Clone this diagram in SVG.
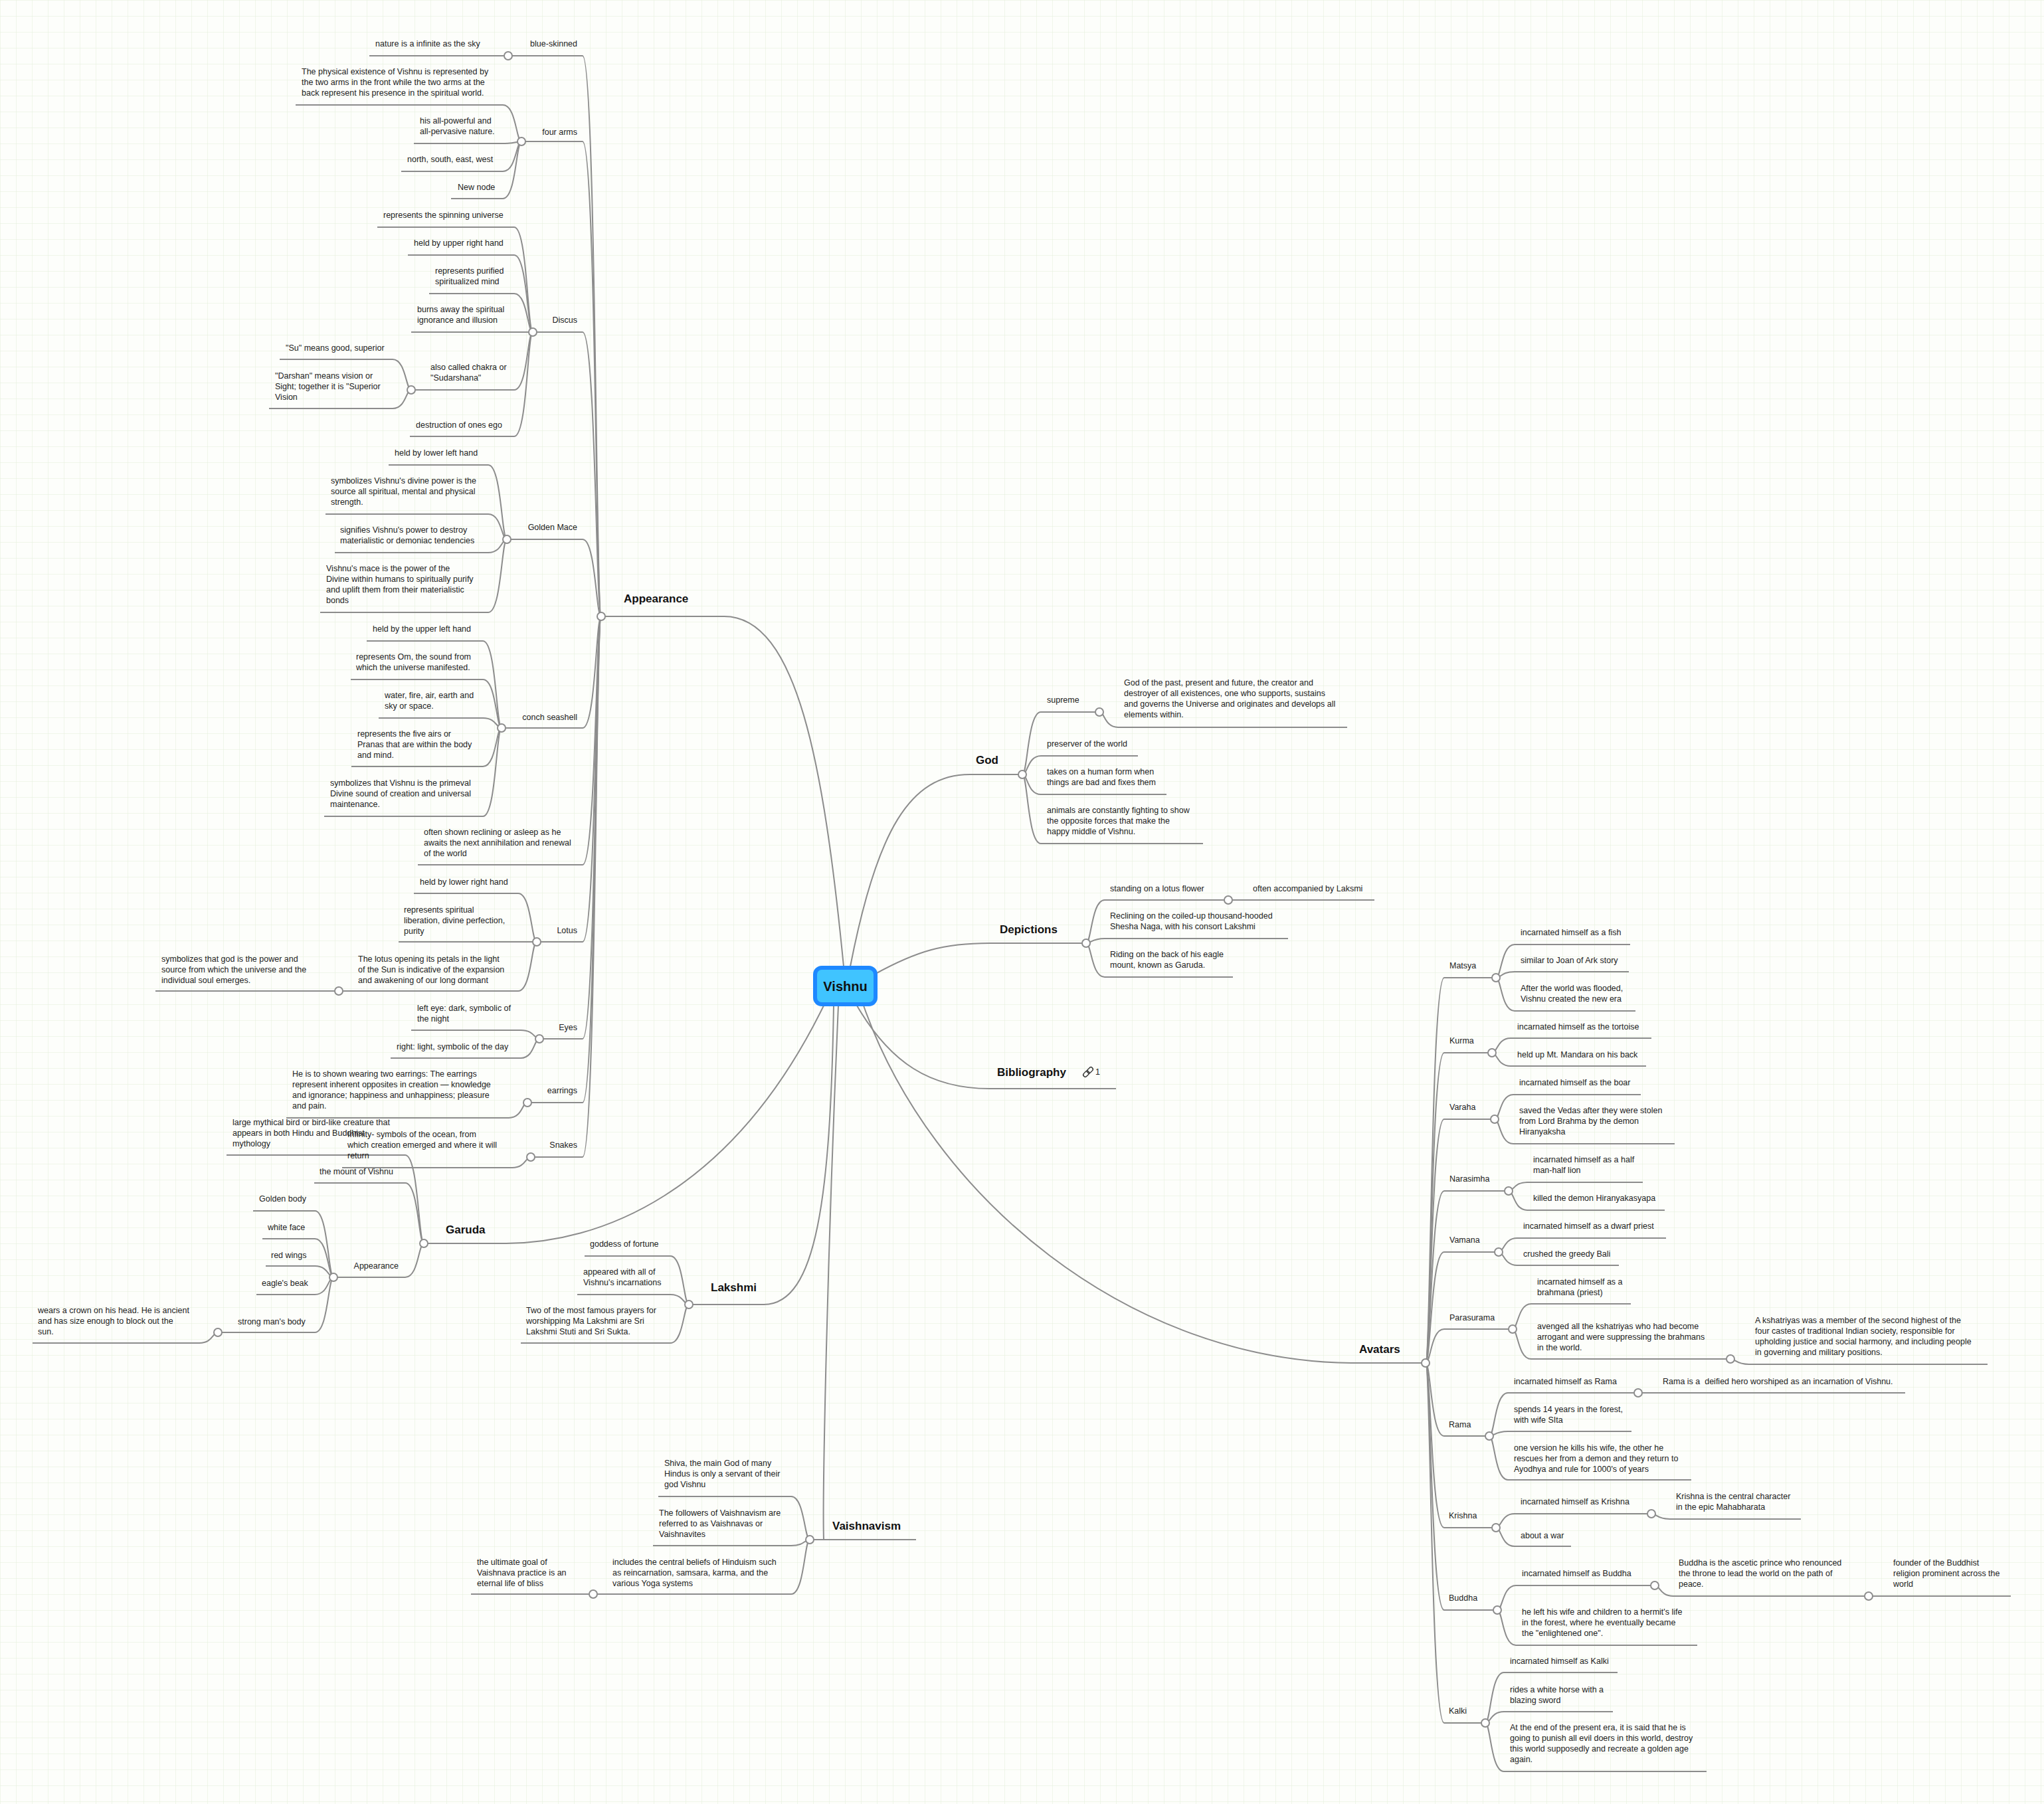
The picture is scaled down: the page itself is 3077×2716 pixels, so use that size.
<svg xmlns="http://www.w3.org/2000/svg" width="3077" height="2716" viewBox="0 0 3077 2716">
<defs>
<pattern id="grid" width="24" height="24" patternUnits="userSpaceOnUse"><path d="M24,0 H0 V24" fill="none" stroke="#e3edda" stroke-width="1"/></pattern>
<style>
.ln{fill:none;stroke:#8c8c8c;stroke-width:2}
.dot{fill:#fff;stroke:#8c8c8c;stroke-width:2}
.t{font-family:"Liberation Sans",Arial,sans-serif;font-size:12.5px;fill:#222}
.h{font-family:"Liberation Sans",Arial,sans-serif;font-size:17px;font-weight:bold;fill:#111}
</style>
</defs>
<rect width="3077" height="2716" fill="#fdfefb"/>
<rect width="3077" height="2716" fill="url(#grid)"/>
<g id="connectors">
<path class="ln" d="M1270,1455 C1240,1150 1200,928 1090,928 H905"/>
<path class="ln" d="M1280,1455 C1320,1250 1370,1166 1460,1166 H1539"/>
<path class="ln" d="M1318,1466 C1380,1432 1420,1420 1490,1420 H1635"/>
<path class="ln" d="M1290,1514 C1340,1600 1400,1639 1490,1639 H1680"/>
<path class="ln" d="M1300,1514 C1400,1800 1700,2052 2040,2052 H2146"/>
<path class="ln" d="M1262,1514 C1245,1900 1238,2250 1240,2318"/>
<path class="ln" d="M1219,2318 H1379"/>
<path class="ln" d="M1255,1514 C1250,1800 1230,1964 1150,1964 H1037"/>
<path class="ln" d="M1240,1514 C1100,1800 900,1872 760,1872 H638"/>
<!-- Appearance -->
<path class="ln" d="M905,928 C897,928 897,84 877,84 H765"/>
<path class="ln" d="M905,928 C897,928 897,213 877,213 H785"/>
<path class="ln" d="M905,928 C897,928 897,500 877,500 H802"/>
<path class="ln" d="M905,928 C897,928 897,812 877,812 H763"/>
<path class="ln" d="M905,928 C897,928 897,1096 877,1096 H755"/>
<path class="ln" d="M905,928 C897,928 897,1302 877,1302 H629"/>
<path class="ln" d="M905,928 C897,928 897,1418 877,1418 H808"/>
<path class="ln" d="M905,928 C897,928 897,1564 877,1564 H812"/>
<path class="ln" d="M905,928 C897,928 897,1660 877,1660 H794"/>
<path class="ln" d="M905,928 C897,928 897,1742 877,1742 H799"/>
<path class="ln" d="M765,84 H556"/>
<path class="ln" d="M785,213 C777,213 777,158 757,158 H445"/>
<path class="ln" d="M785,213 C777,213 777,216 757,216 H623"/>
<path class="ln" d="M785,213 C777,213 777,258 757,258 H604"/>
<path class="ln" d="M785,213 C777,213 777,299 757,299 H679"/>
<path class="ln" d="M802,500 C794,500 794,342 774,342 H568"/>
<path class="ln" d="M802,500 C794,500 794,384 774,384 H614"/>
<path class="ln" d="M802,500 C794,500 794,442 774,442 H646"/>
<path class="ln" d="M802,500 H619"/>
<path class="ln" d="M802,500 C794,500 794,587 774,587 H619"/>
<path class="ln" d="M802,500 C794,500 794,657 774,657 H617"/>
<path class="ln" d="M619,587 C611,587 611,541 591,541 H421"/>
<path class="ln" d="M619,587 C611,587 611,615 591,615 H405"/>
<path class="ln" d="M763,812 C755,812 755,700 735,700 H585"/>
<path class="ln" d="M763,812 C755,812 755,774 735,774 H490"/>
<path class="ln" d="M763,812 C755,812 755,832 735,832 H504"/>
<path class="ln" d="M763,812 C755,812 755,922 735,922 H482"/>
<path class="ln" d="M755,1096 C747,1096 747,965 727,965 H552"/>
<path class="ln" d="M755,1096 C747,1096 747,1023 727,1023 H528"/>
<path class="ln" d="M755,1096 C747,1096 747,1081 727,1081 H570"/>
<path class="ln" d="M755,1096 C747,1096 747,1154 727,1154 H529"/>
<path class="ln" d="M755,1096 C747,1096 747,1229 727,1229 H488"/>
<path class="ln" d="M808,1418 C800,1418 800,1345 780,1345 H623"/>
<path class="ln" d="M808,1418 H600"/>
<path class="ln" d="M808,1418 C800,1418 800,1492 780,1492 H510"/>
<path class="ln" d="M510,1492 H234"/>
<path class="ln" d="M812,1564 C804,1564 804,1551 784,1551 H619"/>
<path class="ln" d="M812,1564 C804,1564 804,1593 784,1593 H588"/>
<path class="ln" d="M794,1660 C786,1660 786,1683 766,1683 H431"/>
<path class="ln" d="M799,1742 C791,1742 791,1758 771,1758 H515"/>
<!-- Garuda -->
<path class="ln" d="M638,1872 C630,1872 630,1739 610,1739 H341"/>
<path class="ln" d="M638,1872 C630,1872 630,1781 610,1781 H473"/>
<path class="ln" d="M638,1872 C630,1872 630,1923 610,1923 H502"/>
<path class="ln" d="M502,1923 C494,1923 494,1823 474,1823 H381"/>
<path class="ln" d="M502,1923 C494,1923 494,1865 474,1865 H395"/>
<path class="ln" d="M502,1923 C494,1923 494,1906 474,1906 H400"/>
<path class="ln" d="M502,1923 C494,1923 494,1949 474,1949 H386"/>
<path class="ln" d="M502,1923 C494,1923 494,2006 474,2006 H328"/>
<path class="ln" d="M328,2006 C320,2006 320,2022 300,2022 H49"/>
<!-- Lakshmi -->
<path class="ln" d="M1037,1964 C1029,1964 1029,1891 1009,1891 H880"/>
<path class="ln" d="M1037,1964 C1029,1964 1029,1949 1009,1949 H869"/>
<path class="ln" d="M1037,1964 C1029,1964 1029,2022 1009,2022 H784"/>
<!-- Vaishnavism -->
<path class="ln" d="M1219,2318 C1211,2318 1211,2253 1191,2253 H991"/>
<path class="ln" d="M1219,2318 C1211,2318 1211,2327 1191,2327 H983"/>
<path class="ln" d="M1219,2318 C1211,2318 1211,2400 1191,2400 H893"/>
<path class="ln" d="M893,2400 H709"/>
<!-- God -->
<path class="ln" d="M1539,1166 C1547,1166 1547,1072 1567,1072 H1655"/>
<path class="ln" d="M1539,1166 C1547,1166 1547,1138 1567,1138 H1713"/>
<path class="ln" d="M1539,1166 C1547,1166 1547,1196 1567,1196 H1756"/>
<path class="ln" d="M1539,1166 C1547,1166 1547,1270 1567,1270 H1811"/>
<path class="ln" d="M1655,1072 C1663,1072 1663,1095 1683,1095 H2028"/>
<!-- Depictions -->
<path class="ln" d="M1635,1420 C1643,1420 1643,1355 1663,1355 H1849"/>
<path class="ln" d="M1635,1420 C1643,1420 1643,1413 1663,1413 H1939"/>
<path class="ln" d="M1635,1420 C1643,1420 1643,1471 1663,1471 H1856"/>
<path class="ln" d="M1849,1355 H2069"/>
<!-- Avatars -->
<path class="ln" d="M2146,2052 C2154,2052 2154,1472 2174,1472 H2252"/>
<path class="ln" d="M2146,2052 C2154,2052 2154,1585 2174,1585 H2246"/>
<path class="ln" d="M2146,2052 C2154,2052 2154,1685 2174,1685 H2250"/>
<path class="ln" d="M2146,2052 C2154,2052 2154,1793 2174,1793 H2271"/>
<path class="ln" d="M2146,2052 C2154,2052 2154,1885 2174,1885 H2256"/>
<path class="ln" d="M2146,2052 C2154,2052 2154,2001 2174,2001 H2277"/>
<path class="ln" d="M2146,2052 C2154,2052 2154,2162 2174,2162 H2242"/>
<path class="ln" d="M2146,2052 C2154,2052 2154,2300 2174,2300 H2252"/>
<path class="ln" d="M2146,2052 C2154,2052 2154,2424 2174,2424 H2254"/>
<path class="ln" d="M2146,2052 C2154,2052 2154,2594 2174,2594 H2236"/>
<path class="ln" d="M2252,1472 C2260,1472 2260,1422 2280,1422 H2454"/>
<path class="ln" d="M2252,1472 C2260,1472 2260,1463 2280,1463 H2452"/>
<path class="ln" d="M2252,1472 C2260,1472 2260,1522 2280,1522 H2462"/>
<path class="ln" d="M2246,1585 C2254,1585 2254,1563 2274,1563 H2486"/>
<path class="ln" d="M2246,1585 C2254,1585 2254,1605 2274,1605 H2478"/>
<path class="ln" d="M2250,1685 C2258,1685 2258,1648 2278,1648 H2470"/>
<path class="ln" d="M2250,1685 C2258,1685 2258,1722 2278,1722 H2521"/>
<path class="ln" d="M2271,1793 C2279,1793 2279,1780 2299,1780 H2473"/>
<path class="ln" d="M2271,1793 C2279,1793 2279,1822 2299,1822 H2506"/>
<path class="ln" d="M2256,1885 C2264,1885 2264,1864 2284,1864 H2508"/>
<path class="ln" d="M2256,1885 C2264,1885 2264,1905 2284,1905 H2437"/>
<path class="ln" d="M2277,2001 C2285,2001 2285,1963 2305,1963 H2455"/>
<path class="ln" d="M2277,2001 C2285,2001 2285,2046 2305,2046 H2605"/>
<path class="ln" d="M2605,2046 C2613,2046 2613,2054 2633,2054 H2992"/>
<path class="ln" d="M2242,2162 C2250,2162 2250,2097 2270,2097 H2466"/>
<path class="ln" d="M2242,2162 C2250,2162 2250,2155 2270,2155 H2456"/>
<path class="ln" d="M2242,2162 C2250,2162 2250,2228 2270,2228 H2546"/>
<path class="ln" d="M2466,2097 H2868"/>
<path class="ln" d="M2252,2300 C2260,2300 2260,2279 2280,2279 H2486"/>
<path class="ln" d="M2252,2300 C2260,2300 2260,2328 2280,2328 H2365"/>
<path class="ln" d="M2486,2279 C2494,2279 2494,2287 2514,2287 H2711"/>
<path class="ln" d="M2254,2424 C2262,2424 2262,2387 2282,2387 H2491"/>
<path class="ln" d="M2254,2424 C2262,2424 2262,2477 2282,2477 H2555"/>
<path class="ln" d="M2491,2387 C2499,2387 2499,2403 2519,2403 H2813"/>
<path class="ln" d="M2813,2403 H3027"/>
<path class="ln" d="M2236,2594 C2244,2594 2244,2518 2264,2518 H2435"/>
<path class="ln" d="M2236,2594 C2244,2594 2244,2577 2264,2577 H2428"/>
<path class="ln" d="M2236,2594 C2244,2594 2244,2667 2264,2667 H2569"/>
</g>
<g id="dots">
<circle class="dot" cx="905" cy="928" r="6"/><circle class="dot" cx="765" cy="84" r="6"/><circle class="dot" cx="785" cy="213" r="6"/><circle class="dot" cx="802" cy="500" r="6"/><circle class="dot" cx="619" cy="587" r="6"/><circle class="dot" cx="763" cy="812" r="6"/><circle class="dot" cx="755" cy="1096" r="6"/><circle class="dot" cx="808" cy="1418" r="6"/><circle class="dot" cx="510" cy="1492" r="6"/><circle class="dot" cx="812" cy="1564" r="6"/><circle class="dot" cx="794" cy="1660" r="6"/><circle class="dot" cx="799" cy="1742" r="6"/><circle class="dot" cx="638" cy="1872" r="6"/><circle class="dot" cx="502" cy="1923" r="6"/><circle class="dot" cx="328" cy="2006" r="6"/><circle class="dot" cx="1037" cy="1964" r="6"/><circle class="dot" cx="1219" cy="2318" r="6"/><circle class="dot" cx="893" cy="2400" r="6"/><circle class="dot" cx="1539" cy="1166" r="6"/><circle class="dot" cx="1655" cy="1072" r="6"/><circle class="dot" cx="1635" cy="1420" r="6"/><circle class="dot" cx="1849" cy="1355" r="6"/><circle class="dot" cx="2146" cy="2052" r="6"/><circle class="dot" cx="2252" cy="1472" r="6"/><circle class="dot" cx="2246" cy="1585" r="6"/><circle class="dot" cx="2250" cy="1685" r="6"/><circle class="dot" cx="2271" cy="1793" r="6"/><circle class="dot" cx="2256" cy="1885" r="6"/><circle class="dot" cx="2277" cy="2001" r="6"/><circle class="dot" cx="2605" cy="2046" r="6"/><circle class="dot" cx="2242" cy="2162" r="6"/><circle class="dot" cx="2466" cy="2097" r="6"/><circle class="dot" cx="2252" cy="2300" r="6"/><circle class="dot" cx="2486" cy="2279" r="6"/><circle class="dot" cx="2254" cy="2424" r="6"/><circle class="dot" cx="2491" cy="2387" r="6"/><circle class="dot" cx="2813" cy="2403" r="6"/><circle class="dot" cx="2236" cy="2594" r="6"/>
</g>
<g id="vishnu">
<rect x="1227" y="1457" width="91" height="55" rx="10" fill="#40c4ff" stroke="#1e88ff" stroke-width="6"/>
<text x="1272.5" y="1492" text-anchor="middle" font-family="Liberation Sans, Arial, sans-serif" font-size="20" font-weight="bold" fill="#111">Vishnu</text>
</g>
<g id="appearance">
<text class="h" x="939" y="907">Appearance</text>
<text class="t" x="869" y="70" text-anchor="end">blue-skinned</text>
<text class="t" x="565" y="70">nature is a infinite as the sky</text>
<text class="t" x="869" y="203" text-anchor="end">four arms</text>
<text class="t" x="454" y="112">The physical existence of Vishnu is represented by<tspan x="454" dy="16">the two arms in the front while the two arms at the</tspan><tspan x="454" dy="16">back represent his presence in the spiritual world.</tspan></text>
<text class="t" x="632" y="186">his all-powerful and<tspan x="632" dy="16">all-pervasive nature.</tspan></text>
<text class="t" x="613" y="244">north, south, east, west</text>
<text class="t" x="689" y="286">New node</text>
<text class="t" x="869" y="486" text-anchor="end">Discus</text>
<text class="t" x="577" y="328">represents the spinning universe</text>
<text class="t" x="623" y="370">held by upper right hand</text>
<text class="t" x="655" y="412">represents purified<tspan x="655" dy="16">spiritualized mind</tspan></text>
<text class="t" x="628" y="470">burns away the spiritual<tspan x="628" dy="16">ignorance and illusion</tspan></text>
<text class="t" x="648" y="557">also called chakra or<tspan x="648" dy="16">"Sudarshana"</tspan></text>
<text class="t" x="430" y="528">"Su" means good, superior</text>
<text class="t" x="414" y="570">"Darshan" means vision or<tspan x="414" dy="16">Sight; together it is "Superior</tspan><tspan x="414" dy="16">Vision</tspan></text>
<text class="t" x="626" y="644">destruction of ones ego</text>
<text class="t" x="869" y="798" text-anchor="end">Golden Mace</text>
<text class="t" x="594" y="686">held by lower left hand</text>
<text class="t" x="498" y="728">symbolizes Vishnu's divine power is the<tspan x="498" dy="16">source all spiritual, mental and physical</tspan><tspan x="498" dy="16">strength.</tspan></text>
<text class="t" x="512" y="802">signifies Vishnu's power to destroy<tspan x="512" dy="16">materialistic or demoniac tendencies</tspan></text>
<text class="t" x="491" y="860">Vishnu's mace is the power of the<tspan x="491" dy="16">Divine within humans to spiritually purify</tspan><tspan x="491" dy="16">and uplift them from their materialistic</tspan><tspan x="491" dy="16">bonds</tspan></text>
<text class="t" x="869" y="1084" text-anchor="end">conch seashell</text>
<text class="t" x="561" y="951">held by the upper left hand</text>
<text class="t" x="536" y="993">represents Om, the sound from<tspan x="536" dy="16">which the universe manifested.</tspan></text>
<text class="t" x="579" y="1051">water, fire, air, earth and<tspan x="579" dy="16">sky or space.</tspan></text>
<text class="t" x="538" y="1109">represents the five airs or<tspan x="538" dy="16">Pranas that are within the body</tspan><tspan x="538" dy="16">and mind.</tspan></text>
<text class="t" x="497" y="1183">symbolizes that Vishnu is the primeval<tspan x="497" dy="16">Divine sound of creation and universal</tspan><tspan x="497" dy="16">maintenance.</tspan></text>
<text class="t" x="638" y="1257">often shown reclining or asleep as he<tspan x="638" dy="16">awaits the next annihilation and renewal</tspan><tspan x="638" dy="16">of the world</tspan></text>
<text class="t" x="869" y="1405" text-anchor="end">Lotus</text>
<text class="t" x="632" y="1332">held by lower right hand</text>
<text class="t" x="608" y="1374">represents spiritual<tspan x="608" dy="16">liberation, divine perfection,</tspan><tspan x="608" dy="16">purity</tspan></text>
<text class="t" x="539" y="1448">The lotus opening its petals in the light<tspan x="539" dy="16">of the Sun is indicative of the expansion</tspan><tspan x="539" dy="16">and awakening of our long dormant</tspan></text>
<text class="t" x="243" y="1448">symbolizes that god is the power and<tspan x="243" dy="16">source from which the universe and the</tspan><tspan x="243" dy="16">individual soul emerges.</tspan></text>
<text class="t" x="869" y="1551" text-anchor="end">Eyes</text>
<text class="t" x="628" y="1522">left eye: dark, symbolic of<tspan x="628" dy="16">the night</tspan></text>
<text class="t" x="597" y="1580">right: light, symbolic of the day</text>
<text class="t" x="869" y="1646" text-anchor="end">earrings</text>
<text class="t" x="440" y="1621">He is to shown wearing two earrings: The earrings<tspan x="440" dy="16">represent inherent opposites in creation — knowledge</tspan><tspan x="440" dy="16">and ignorance; happiness and unhappiness; pleasure</tspan><tspan x="440" dy="16">and pain.</tspan></text>
<text class="t" x="869" y="1728" text-anchor="end">Snakes</text>
<text class="t" x="523" y="1712">Infinity- symbols of the ocean, from<tspan x="523" dy="16">which creation emerged and where it will</tspan><tspan x="523" dy="16">return</tspan></text>
</g>
<g id="garuda">
<text class="h" x="671" y="1857">Garuda</text>
<text class="t" x="350" y="1694">large mythical bird or bird-like creature that<tspan x="350" dy="16">appears in both Hindu and Buddhist</tspan><tspan x="350" dy="16">mythology</tspan></text>
<text class="t" x="481" y="1768">the mount of Vishnu</text>
<text class="t" x="600" y="1910" text-anchor="end">Appearance</text>
<text class="t" x="390" y="1809">Golden body</text>
<text class="t" x="403" y="1852">white face</text>
<text class="t" x="408" y="1894">red wings</text>
<text class="t" x="394" y="1936">eagle's beak</text>
<text class="t" x="358" y="1994">strong man's body</text>
<text class="t" x="57" y="1977">wears a crown on his head. He is ancient<tspan x="57" dy="16">and has size enough to block out the</tspan><tspan x="57" dy="16">sun.</tspan></text>
</g>
<g id="lakshmi">
<text class="h" x="1070" y="1944">Lakshmi</text>
<text class="t" x="888" y="1877">goddess of fortune</text>
<text class="t" x="878" y="1919">appeared with all of<tspan x="878" dy="16">Vishnu's incarnations</tspan></text>
<text class="t" x="792" y="1977">Two of the most famous prayers for<tspan x="792" dy="16">worshipping Ma Lakshmi are Sri</tspan><tspan x="792" dy="16">Lakshmi Stuti and Sri Sukta.</tspan></text>
</g>
<g id="vaishnavism">
<text class="h" x="1253" y="2303">Vaishnavism</text>
<text class="t" x="1000" y="2207">Shiva, the main God of many<tspan x="1000" dy="16">Hindus is only a servant of their</tspan><tspan x="1000" dy="16">god Vishnu</tspan></text>
<text class="t" x="992" y="2282">The followers of Vaishnavism are<tspan x="992" dy="16">referred to as Vaishnavas or</tspan><tspan x="992" dy="16">Vaishnavites</tspan></text>
<text class="t" x="922" y="2356">includes the central beliefs of Hinduism such<tspan x="922" dy="16">as reincarnation, samsara, karma, and the</tspan><tspan x="922" dy="16">various Yoga systems</tspan></text>
<text class="t" x="718" y="2356">the ultimate goal of<tspan x="718" dy="16">Vaishnava practice is an</tspan><tspan x="718" dy="16">eternal life of bliss</tspan></text>
</g>
<g id="god">
<text class="h" x="1469" y="1150">God</text>
<text class="t" x="1576" y="1058">supreme</text>
<text class="t" x="1692" y="1032">God of the past, present and future, the creator and<tspan x="1692" dy="16">destroyer of all existences, one who supports, sustains</tspan><tspan x="1692" dy="16">and governs the Universe and originates and develops all</tspan><tspan x="1692" dy="16">elements within.</tspan></text>
<text class="t" x="1576" y="1124">preserver of the world</text>
<text class="t" x="1576" y="1166">takes on a human form when<tspan x="1576" dy="16">things are bad and fixes them</tspan></text>
<text class="t" x="1576" y="1224">animals are constantly fighting to show<tspan x="1576" dy="16">the opposite forces that make the</tspan><tspan x="1576" dy="16">happy middle of Vishnu.</tspan></text>
</g>
<g id="depictions">
<text class="h" x="1505" y="1405">Depictions</text>
<text class="t" x="1671" y="1342">standing on a lotus flower</text>
<text class="t" x="1886" y="1342">often accompanied by Laksmi</text>
<text class="t" x="1671" y="1383">Reclining on the coiled-up thousand-hooded<tspan x="1671" dy="16">Shesha Naga, with his consort Lakshmi</tspan></text>
<text class="t" x="1671" y="1441">Riding on the back of his eagle<tspan x="1671" dy="16">mount, known as Garuda.</tspan></text>
</g>
<g id="bibliography">
<text class="h" x="1501" y="1620">Bibliography</text>
<g fill="none" stroke="#333" stroke-width="1.4" transform="rotate(-45 1638 1614)"><rect x="1629" y="1611" width="10" height="6" rx="3"/><rect x="1637" y="1611" width="10" height="6" rx="3"/></g>
<text class="t" x="1649" y="1618" font-size="11">1</text>
</g>
<g id="avatars">
<text class="h" x="2046" y="2037">Avatars</text>
<text class="t" x="2182" y="1458">Matsya</text>
<text class="t" x="2289" y="1408">incarnated himself as a fish</text>
<text class="t" x="2289" y="1450">similar to Joan of Ark story</text>
<text class="t" x="2289" y="1492">After the world was flooded,<tspan x="2289" dy="16">Vishnu created the new era</tspan></text>
<text class="t" x="2182" y="1571">Kurma</text>
<text class="t" x="2284" y="1550">incarnated himself as the tortoise</text>
<text class="t" x="2284" y="1592">held up Mt. Mandara on his back</text>
<text class="t" x="2182" y="1671">Varaha</text>
<text class="t" x="2287" y="1634">incarnated himself as the boar</text>
<text class="t" x="2287" y="1676">saved the Vedas after they were stolen<tspan x="2287" dy="16">from Lord Brahma by the demon</tspan><tspan x="2287" dy="16">Hiranyaksha</tspan></text>
<text class="t" x="2182" y="1779">Narasimha</text>
<text class="t" x="2308" y="1750">incarnated himself as a half<tspan x="2308" dy="16">man-half lion</tspan></text>
<text class="t" x="2308" y="1808">killed the demon Hiranyakasyapa</text>
<text class="t" x="2182" y="1871">Vamana</text>
<text class="t" x="2293" y="1850">incarnated himself as a dwarf priest</text>
<text class="t" x="2293" y="1892">crushed the greedy Bali</text>
<text class="t" x="2182" y="1988">Parasurama</text>
<text class="t" x="2314" y="1934">incarnated himself as a<tspan x="2314" dy="16">brahmana (priest)</tspan></text>
<text class="t" x="2314" y="2001">avenged all the kshatriyas who had become<tspan x="2314" dy="16">arrogant and were suppressing the brahmans</tspan><tspan x="2314" dy="16">in the world.</tspan></text>
<text class="t" x="2642" y="1992">A kshatriyas was a member of the second highest of the<tspan x="2642" dy="16">four castes of traditional Indian society, responsible for</tspan><tspan x="2642" dy="16">upholding justice and social harmony, and including people</tspan><tspan x="2642" dy="16">in governing and military positions.</tspan></text>
<text class="t" x="2181" y="2149">Rama</text>
<text class="t" x="2279" y="2084">incarnated himself as Rama</text>
<text class="t" x="2503" y="2084" xml:space="preserve">Rama is a  deified hero worshiped as an incarnation of Vishnu.</text>
<text class="t" x="2279" y="2126">spends 14 years in the forest,<tspan x="2279" dy="16">with wife SIta</tspan></text>
<text class="t" x="2279" y="2184">one version he kills his wife, the other he<tspan x="2279" dy="16">rescues her from a demon and they return to</tspan><tspan x="2279" dy="16">Ayodhya and rule for 1000's of years</tspan></text>
<text class="t" x="2181" y="2286">Krishna</text>
<text class="t" x="2289" y="2265">incarnated himself as Krishna</text>
<text class="t" x="2523" y="2257">Krishna is the central character<tspan x="2523" dy="16">in the epic Mahabharata</tspan></text>
<text class="t" x="2289" y="2316">about a war</text>
<text class="t" x="2181" y="2410">Buddha</text>
<text class="t" x="2291" y="2373">incarnated himself as Buddha</text>
<text class="t" x="2527" y="2357">Buddha is the ascetic prince who renounced<tspan x="2527" dy="16">the throne to lead the world on the path of</tspan><tspan x="2527" dy="16">peace.</tspan></text>
<text class="t" x="2850" y="2357">founder of the Buddhist<tspan x="2850" dy="16">religion prominent across the</tspan><tspan x="2850" dy="16">world</tspan></text>
<text class="t" x="2291" y="2431">he left his wife and children to a hermit's life<tspan x="2291" dy="16">in the forest, where he eventually became</tspan><tspan x="2291" dy="16">the "enlightened one".</tspan></text>
<text class="t" x="2181" y="2580">Kalki</text>
<text class="t" x="2273" y="2505">incarnated himself as Kalki</text>
<text class="t" x="2273" y="2548">rides a white horse with a<tspan x="2273" dy="16">blazing sword</tspan></text>
<text class="t" x="2273" y="2605">At the end of the present era, it is said that he is<tspan x="2273" dy="16">going to punish all evil doers in this world, destroy</tspan><tspan x="2273" dy="16">this world supposedly and recreate a golden age</tspan><tspan x="2273" dy="16">again.</tspan></text>
</g>
</svg>
